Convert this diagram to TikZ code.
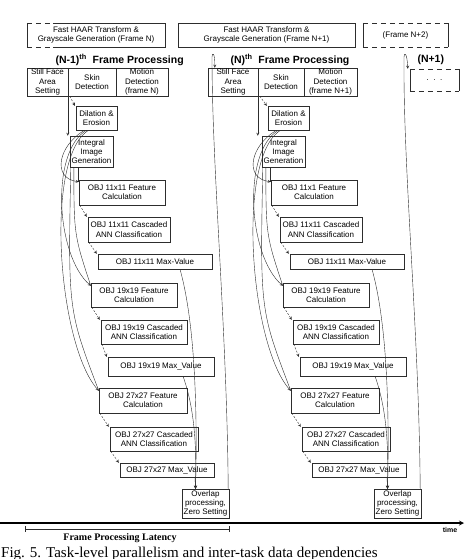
\documentclass[tikz,border=0pt]{standalone}
\usepackage{fontspec}
\setmainfont{Liberation Sans}
\newfontfamily\capfont{Liberation Serif}
\usepackage{tikz}
\usetikzlibrary{arrows,positioning,calc}
\definecolor{lngray}{RGB}{45,45,45}
\tikzstyle{arrow} = [->,>=stealth,color=lngray]
\tikzstyle{darrow} = [->,>=stealth,color=lngray,dash pattern=on 2pt off 1.5pt]
\tikzstyle{task} = [rectangle,draw=lngray,inner sep=0pt,align=center,font=\fontsize{8}{9.3}\selectfont]
\tikzstyle{frametitle} = [anchor=west,font=\fontsize{10.5}{12}\selectfont\bfseries]
\tikzstyle{fdash} = [color=lngray,dash pattern=on 5pt off 4pt]

\begin{document}
\begin{tikzpicture}[x=1pt, y=-1pt]
    \useasboundingbox (0,0) rectangle (474,559);

    % Grayscale generation stages
    \node[task, draw=none, minimum width=138, minimum height=24] (haar1) at (96,35) {Fast HAAR Transform \&\\Grayscale Generation (Frame N)};
    \draw[color=lngray] (haar1.north west) -- (haar1.south west);
    \draw[fdash] (haar1.north west) -- ([xshift=26pt]haar1.north west);
    \draw[fdash] (haar1.south west) -- ([xshift=26pt]haar1.south west);
    \draw[color=lngray] ([xshift=26pt]haar1.north west) -- (haar1.north east) -- (haar1.south east) -- ([xshift=26pt]haar1.south west);
    \node[task, minimum width=177, minimum height=24] (haar2) at (266.5,35) {Fast HAAR Transform \&\\Grayscale Generation (Frame N+1)};
    \node[task, draw=none, minimum width=85, minimum height=24] (haar3) at (405.5,35) {(Frame N+2)};
    \draw[color=lngray] (haar3.north west) -- (haar3.south west);
    \draw[color=lngray] (haar3.north east) -- (haar3.south east);
    \draw[fdash] (haar3.north west) -- (haar3.north east);
    \draw[fdash] (haar3.south west) -- (haar3.south east);

    % Titles
    \node[frametitle] (title1) at (52,60) {(N-1)\textsuperscript{th}\ \ Frame Processing};
    \node[frametitle] (title2) at (227,60) {(N)\textsuperscript{th}\ \ Frame Processing};
    \node[frametitle] (title3) at (414,60) {(N+1)};

    % First row of tasks
    \node[task, minimum width=41, minimum height=28] (sf1) at (47.5,82) {Still Face\\Area\\Setting};
    \node[task, minimum width=48, minimum height=28] (sk1) at (92,82) {Skin\\Detection};
    \node[task, minimum width=52, minimum height=28] (md1) at (142,82) {Motion\\Detection\\(frame N)};
    \node[task, minimum width=50, minimum height=28] (sf2) at (233,82) {Still Face\\Area\\Setting};
    \node[task, minimum width=46, minimum height=28] (sk2) at (281,82) {Skin\\Detection};
    \node[task, minimum width=53, minimum height=28] (md2) at (330.5,82) {Motion\\Detection\\(frame N+1)};
    \node[task, draw=none, minimum width=49, minimum height=22] (dots) at (434.5,80) {.\ \ .\ \ .};
    \draw[color=lngray] (dots.north west) -- (dots.south west);
    \draw[color=lngray] (dots.north east) -- (dots.south east);
    \draw[fdash] (dots.north west) -- (dots.north east);
    \draw[fdash] (dots.south west) -- (dots.south east);

    % Per-frame task chains
    \foreach \f/\dx/\fname in {1/0/11x11, 2/192/11x1} {
    \begin{scope}[xshift=\dx pt]
        \node[task, minimum width=41, minimum height=24] (dil\f) at (96.5,118) {Dilation \&\\Erosion};
        \node[task, minimum width=43, minimum height=31] (int\f) at (91.5,151.5) {Integral\\Image\\Generation};
        \node[task, minimum width=86, minimum height=25] (f11\f) at (122,192.5) {OBJ \fname\ Feature\\Calculation};
        \node[task, minimum width=82, minimum height=25] (c11\f) at (129,229.5) {OBJ 11x11 Cascaded\\ANN Classification};
        \node[task, minimum width=114, minimum height=15] (m11\f) at (155,261.5) {OBJ 11x11 Max-Value};
        \node[task, minimum width=86, minimum height=24] (f19\f) at (134,295) {OBJ 19x19 Feature\\Calculation};
        \node[task, minimum width=86, minimum height=24] (c19\f) at (144,332) {OBJ 19x19 Cascaded\\ANN Classification};
        \node[task, minimum width=106, minimum height=19] (m19\f) at (161,366.5) {OBJ 19x19 Max\_Value};
        \node[task, minimum width=88, minimum height=25] (f27\f) at (143,400.5) {OBJ 27x27 Feature\\Calculation};
        \node[task, minimum width=88, minimum height=24] (c27\f) at (154,439) {OBJ 27x27 Cascaded\\ANN Classification};
        \node[task, minimum width=94, minimum height=14] (m27\f) at (167,470) {OBJ 27x27 Max\_Value};
        \node[task, minimum width=47, minimum height=29] (ov\f) at (205.5,503.5) {Overlap\\processing,\\Zero Setting};

        % inputs
        \draw[arrow] (sk\f.south west) -- (sk\f.south west |- int\f.north);
        \draw[darrow] ([xshift=2pt]sk\f.south west) -- ([xshift=-1pt]dil\f.north west);
        \draw[arrow] ([xshift=-12pt]dil\f.south) .. controls (58,146) and (52,178) .. ([yshift=-2pt]f11\f.north west);
        \draw[arrow] ([xshift=-10pt]dil\f.south) .. controls (50,152) and (56,255) .. ([yshift=-3pt]f19\f.north west);
        \draw[arrow] ([xshift=-8pt]dil\f.south) .. controls (44,158) and (58,345) .. ([yshift=-3pt]f27\f.north west);
        \draw[color=lngray] ([xshift=8pt]int\f.south west) -- ([xshift=-1pt,yshift=-2pt]f11\f.north west);
        \draw[color=lngray] ([xshift=4pt]int\f.south west) .. controls (74,235) .. ([yshift=-3pt]f19\f.north west);
        \draw[color=lngray] ([xshift=1pt]int\f.south west) .. controls (68,310) .. ([yshift=-3pt]f27\f.north west);

        % cascade chain
        \draw[darrow] ([xshift=1pt]f11\f.south west) -- ([xshift=-1pt]c11\f.north west);
        \draw[darrow] ([xshift=1pt]c11\f.south west) -- ([xshift=-1pt]m11\f.north west);
        \draw[darrow] ([xshift=1pt]f19\f.south west) -- ([xshift=-1pt]c19\f.north west);
        \draw[darrow] ([xshift=1pt]c19\f.south west) -- ([xshift=-1pt]m19\f.north west);
        \draw[darrow] ([xshift=1pt]f27\f.south west) -- ([xshift=-1pt]c27\f.north west);
        \draw[darrow] ([xshift=1pt]c27\f.south west) -- ([xshift=-1pt]m27\f.north west);

        % max values to overlap processing
        \draw[arrow] ([xshift=25pt]m11\f.south) .. controls (197,330) and (197,430) .. ([xshift=-10pt]ov\f.north);
        \draw[arrow] ([xshift=22pt]m19\f.south) .. controls (197,415) and (196,460) .. ([xshift=-10pt]ov\f.north);
        \draw[arrow] ([xshift=28pt]m27\f.south) -- ([xshift=-10pt]ov\f.north);
    \end{scope}
    }

    % Frame to frame dependencies
    \draw[arrow] ([xshift=-1pt]ov1.north east) .. controls (227,330) and (212,170) .. (212,57) .. controls (212,52) and (215,52) .. ([xshift=7pt]sf2.north west);
    \draw[arrow] ([xshift=-1pt]ov2.north east) .. controls (419,330) and (403,170) .. (404,57) .. controls (404,52) and (407,52) .. ([xshift=-2pt]dots.north west);

    % Time axis
    \coordinate (t0) at (0,523);
    \coordinate (t1) at (464,523);
    \draw[->,>=stealth,line width=1.2pt] (t0) -- (t1);
    \node[font=\fontsize{7}{8}\selectfont\bfseries] (timelbl) at (450,530) {time};
    \coordinate (lat0) at (25,529);
    \coordinate (lat1) at (229,529);
    \draw[|-|,color=lngray] (lat0) -- (lat1);
    \node[font=\capfont\fontsize{10}{12}\selectfont\bfseries] (latlbl) at (120,538) {Frame Processing Latency};

    % Caption
    \node[font=\capfont\fontsize{15}{18}\selectfont, anchor=base west, inner sep=0pt] (caption) at (1,557) {Fig. 5. Task-level parallelism and inter-task data dependencies};
\end{tikzpicture}
\end{document}
